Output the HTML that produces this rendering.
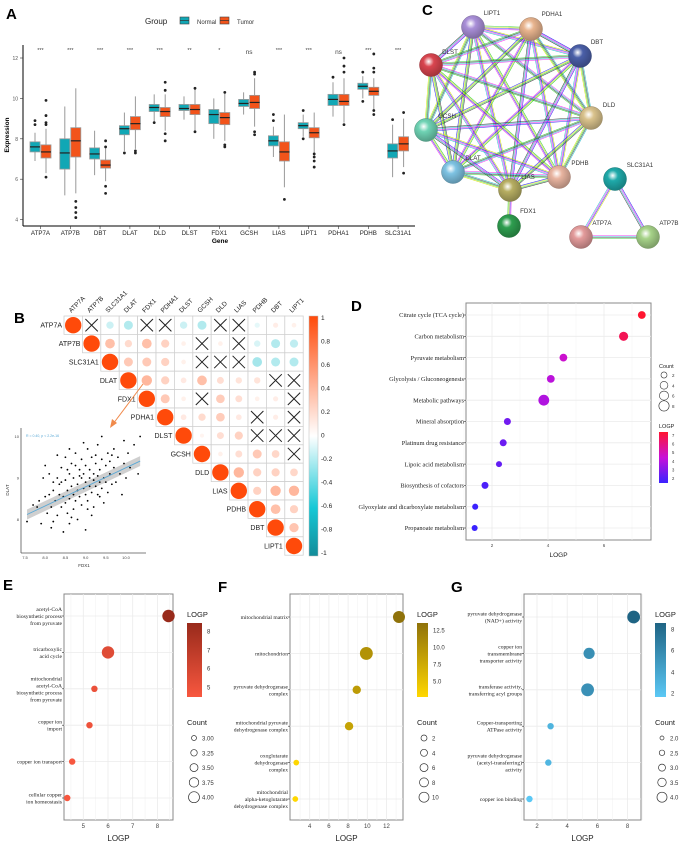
<!DOCTYPE html>
<html><head><meta charset="utf-8">
<style>
html,body{margin:0;padding:0;background:#fff;}
svg{display:block;font-family:"Liberation Sans",sans-serif;}
.serif{font-family:"Liberation Serif",serif;}
</style></head>
<body>
<svg id="fig" width="685" height="842" viewBox="0 0 685 842">
<g font-weight="bold" font-size="15">
<text x="6" y="19">A</text>
<text x="14" y="323">B</text>
<text x="422" y="15">C</text>
<text x="351" y="311">D</text>
<text x="3" y="590">E</text>
<text x="218" y="592">F</text>
<text x="451" y="592">G</text>
</g>
<g id="pA"></g>
<g id="pC"></g>
<g id="pB"></g>
<g id="pS"></g>
<g id="pD"></g>
<g id="pE"></g>
<g id="pF"></g>
<g id="pG"></g>
</svg>
<script>
// ===== Panel A data =====
const genes = ["ATP7A","ATP7B","DBT","DLAT","DLD","DLST","FDX1","GCSH","LIAS","LIPT1","PDHA1","PDHB","SLC31A1"];
const sigLabels = ["***","***","***","***","***","**","*","ns","***","***","ns","***","***"];
// [whiskerLo, q1, median, q3, whiskerHi]
const normalStats = [[6.9,7.35,7.6,7.85,8.3],[5.2,6.5,7.3,8.0,9.6],[6.2,7.0,7.25,7.55,8.4],[7.4,8.2,8.5,8.65,9.3],[8.8,9.35,9.55,9.7,10.2],[8.95,9.4,9.5,9.7,10.1],[8.0,8.75,9.2,9.45,10.0],[9.2,9.6,9.75,9.95,10.3],[7.1,7.65,7.9,8.15,8.6],[8.1,8.5,8.65,8.8,9.2],[9.1,9.65,9.95,10.2,10.8],[10.0,10.45,10.6,10.75,11.1],[6.1,7.05,7.4,7.75,8.7]];
const tumorStats = [[6.3,7.05,7.35,7.7,8.5],[5.3,7.1,7.9,8.55,10.5],[5.9,6.55,6.7,6.95,7.6],[7.5,8.45,8.75,9.1,10.1],[8.4,9.1,9.35,9.55,10.2],[8.4,9.2,9.45,9.7,10.5],[7.9,8.7,9.05,9.3,10.3],[8.6,9.5,9.8,10.15,11.0],[5.6,6.9,7.35,7.85,9.2],[7.3,8.05,8.3,8.55,9.3],[8.8,9.65,9.85,10.2,11.0],[9.4,10.15,10.35,10.55,11.0],[6.6,7.4,7.75,8.1,9.0]];
const normalOut = [[8.7,8.9],[],[],[7.3],[8.8],[],[],[],[8.9,9.2],[8.0,9.4],[11.05],[9.85,11.3],[8.95]];
const tumorOut = [[6.1,8.7,8.8,9.15,9.9],[4.9,4.6,4.35,4.1],[5.3,5.65,7.6,7.9],[7.3,7.4],[7.9,8.25,10.4,10.8],[8.35,10.5],[7.6,7.7,10.3],[8.2,8.35,11.2,11.3],[5.0],[6.6,6.9,7.1,7.25],[8.7,11.3,11.6,12.0],[9.2,9.4,11.3,11.5,12.2],[6.3,9.3]];
const yTicksA = [4,6,8,10,12];

// ===== Panel B data =====
const corrGenes = ["ATP7A","ATP7B","SLC31A1","DLAT","FDX1","PDHA1","DLST","GCSH","DLD","LIAS","PDHB","DBT","LIPT1"];
const corrRows = [
 [1,null,-0.2,-0.3,null,null,-0.2,-0.3,null,null,-0.1,0.1,0.08],
 [1,0.35,0.2,0.35,0.25,0.08,null,0.08,null,-0.15,-0.3,-0.25],
 [1,0.3,0.3,0.25,0.08,null,null,null,-0.35,-0.3,-0.3],
 [1,0.4,0.25,0.12,0.35,0.18,0.15,0.15,null,null],
 [1,0.3,0.08,null,0.28,0.18,0.08,0.1,null],
 [1,0.12,0.2,0.28,0.12,null,0.1,null],
 [1,0.06,0.18,0.25,null,null,null],
 [1,0.08,0.18,0.3,0.22,null],
 [1,0.4,0.25,0.25,0.22],
 [1,0.25,0.4,0.4],
 [1,0.35,0.25],
 [1,0.32],
 [1]];
const corrTicks = [1,0.8,0.6,0.4,0.2,0,-0.2,-0.4,-0.6,-0.8,-1];

// ===== Scatter inset data =====
const fdx1 = [7.55,7.7,7.8,7.85,7.9,7.95,8.0,8.05,8.1,8.1,8.15,8.2,8.2,8.25,8.3,8.3,8.35,8.35,8.4,8.4,8.45,8.45,8.5,8.5,8.5,8.55,8.55,8.6,8.6,8.6,8.65,8.65,8.7,8.7,8.7,8.75,8.75,8.8,8.8,8.8,8.85,8.85,8.9,8.9,8.9,8.95,8.95,9.0,9.0,9.0,9.0,9.05,9.05,9.1,9.1,9.1,9.15,9.15,9.2,9.2,9.2,9.25,9.25,9.3,9.3,9.3,9.35,9.35,9.4,9.4,9.45,9.45,9.5,9.5,9.55,9.55,9.6,9.6,9.65,9.7,9.7,9.75,9.8,9.85,9.9,9.95,10.0,10.05,10.1,10.2,10.3,10.35,8.3,8.0,8.95,9.15,8.65,8.4,8.85,9.05,9.25,8.55,9.35,8.75,9.65,8.2,8.15,9.4,8.6,9.95];
const dlat = [7.95,8.35,8.3,8.45,7.9,9.0,8.55,8.15,8.6,9.1,8.3,8.7,7.95,8.45,9.0,8.1,8.6,8.85,8.3,9.25,8.55,7.7,8.95,8.4,9.5,8.7,8.15,9.1,8.5,7.9,8.8,9.35,8.6,8.25,9.0,8.45,9.6,8.85,8.7,8.0,9.2,8.55,9.0,8.35,9.45,8.75,9.1,8.6,9.3,8.9,7.75,9.7,8.45,9.0,8.8,9.2,8.65,9.5,8.95,9.1,8.3,8.8,9.35,9.05,8.6,9.8,8.9,9.2,9.45,8.75,9.0,8.4,9.3,8.9,9.6,8.65,9.1,9.4,8.85,9.25,9.7,8.9,9.5,9.1,8.6,9.35,9.0,9.6,9.25,9.8,9.1,10.0,9.55,9.3,9.85,8.1,8.05,8.9,9.05,8.25,9.55,9.2,8.55,9.3,9.55,8.9,7.8,10.0,9.7,9.9];
const sxTicks = [7.5,8.0,8.5,9.0,9.5,10.0];
const syTicks = [8,9,10];

// ===== Panel D data =====
const keggTerms = ["Citrate cycle (TCA cycle)","Carbon metabolism","Pyruvate metabolism","Glycolysis / Gluconeogenesis","Metabolic pathways","Mineral absorption","Platinum drug resistance","Lipoic acid metabolism","Biosynthesis of cofactors","Glyoxylate and dicarboxylate metabolism","Propanoate metabolism"];
const keggLogp = [7.35,6.7,4.55,4.1,3.85,2.55,2.4,2.25,1.75,1.4,1.38];
const keggCount = [4,6,4,4,9,3,3,2,3,2,2];
const dTicks = [2,4,6];

// ===== Panel E data =====
const bpTerms = [["acetyl-CoA","biosynthetic process","from pyruvate"],["tricarboxylic","acid cycle"],["mitochondrial","acetyl-CoA","biosynthetic process","from pyruvate"],["copper ion","import"],["copper ion transport"],["cellular copper","ion homeostasis"]];
const bpLogp = [8.45,6.0,5.45,5.25,4.55,4.35];
const bpCount = [4,4,3,3,3,3];
const eTicks = [5,6,7,8];
// ===== Panel F data =====
const ccTerms = [["mitochondrial matrix"],["mitochondrion"],["pyruvate dehydrogenase","complex"],["mitochondrial pyruvate","dehydrogenase complex"],["oxoglutarate","dehydrogenase","complex"],["mitochondrial","alpha-ketoglutarate","dehydrogenase complex"]];
const ccLogp = [13.3,9.9,8.9,8.1,2.6,2.5];
const ccCount = [10,11,6,6,3,3];
const fTicks = [4,6,8,10,12];
// ===== Panel G data =====
const mfTerms = [["pyruvate dehydrogenase","(NAD+) activity"],["copper ion","transmembrane","transporter activity"],["transferase activity,","transferring acyl groups"],["Copper-transporting","ATPase activity"],["pyruvate dehydrogenase","(acetyl-transferring)","activity"],["copper ion binding"]];
const mfLogp = [8.4,5.45,5.35,2.9,2.75,1.5];
const mfCount = [4,3.5,4,2,2,2];
const gTicks = [2,4,6,8];

const NS="http://www.w3.org/2000/svg";
function mk(parent,tag,attrs,txt){const e=document.createElementNS(NS,tag);for(const k in attrs)e.setAttribute(k,attrs[k]);if(txt!==undefined)e.textContent=txt;parent.appendChild(e);return e;}
function lerpC(a,b,t){const pa=[1,3,5].map(i=>parseInt(a.substr(i,2),16)),pb=[1,3,5].map(i=>parseInt(b.substr(i,2),16));return "rgb("+pa.map((v,i)=>Math.round(v+(pb[i]-v)*t)).join(",")+")";}

// ===== Panel A draw =====
(function(){
const g=document.getElementById('pA');
const yA=v=>58+(12-v)*20.2, xA=i=>40.5+i*29.8;
let t;
t=mk(g,'text',{x:145,y:24,'font-size':8,fill:'#222'},'Group');

[['#11A7B5','Normal',180],['#F2541B','Tumor',220]].forEach(([c,l,x])=>{
 const r=mk(g,'rect',{x:x,y:17,width:9,height:7,fill:c,stroke:'#444','stroke-width':0.6});
 
 mk(g,'line',{x1:x,x2:x+9,y1:20.5,y2:20.5,stroke:'#333','stroke-width':0.7});
 const tt=mk(g,'text',{x:x+17,y:24,'font-size':6,fill:'#333'},l);
 
});
mk(g,'line',{x1:23,x2:23,y1:45,y2:226,stroke:'#000','stroke-width':1});
mk(g,'line',{x1:23,x2:415,y1:226,y2:226,stroke:'#000','stroke-width':1});
yTicksA.forEach(v=>{mk(g,'line',{x1:20,x2:23,y1:yA(v),y2:yA(v),stroke:'#333','stroke-width':0.6});
 const tt=mk(g,'text',{x:18,y:yA(v)+2,'font-size':5,fill:'#555','text-anchor':'end'},v);
 });
t=mk(g,'text',{x:0,y:0,'font-size':6.5,'font-weight':'bold',transform:'translate(9,135) rotate(-90)','text-anchor':'middle'},'Expression');

t=mk(g,'text',{x:220,y:243,'font-size':6.5,'font-weight':'bold','text-anchor':'middle'},'Gene');

genes.forEach((gn,i)=>{
 const cx=xA(i);
 mk(g,'line',{x1:cx,x2:cx,y1:226,y2:229,stroke:'#333','stroke-width':0.6});
 const tt=mk(g,'text',{x:cx,y:235,'font-size':6.2,'text-anchor':'middle',fill:'#222'},gn);
 
 const sg=mk(g,'text',{x:cx,y:sigLabels[i]=='ns'?54:52,'font-size':sigLabels[i]=='ns'?6.5:5.5,'text-anchor':'middle',fill:'#444'},sigLabels[i]);
 
 [[normalStats[i],normalOut[i],'#11A7B5',cx-5.5,'normal'],[tumorStats[i],tumorOut[i],'#F2541B',cx+5.5,'tumor']].forEach(([s,o,c,bx,nm])=>{
  mk(g,'line',{x1:bx,x2:bx,y1:yA(s[0]),y2:yA(s[4]),stroke:'#999','stroke-width':1});
  const b=mk(g,'rect',{x:bx-5,y:yA(s[3]),width:10,height:yA(s[1])-yA(s[3]),fill:c,stroke:'#9a9a9a','stroke-width':0.8});
  
  mk(g,'line',{x1:bx-5,x2:bx+5,y1:yA(s[2]),y2:yA(s[2]),stroke:'#222','stroke-width':1.2});
  o.forEach(v=>{const p=mk(g,'circle',{cx:bx,cy:yA(v),r:1.4,fill:'#222'});
   });
 });
});
})();

// ===== Panel C network =====
(function(){
const g=document.getElementById('pC');
const nodes={LIPT1:[473,27,'#A98FD8',492,15],PDHA1:[531,29,'#E8B48E',552,16],DBT:[580,56,'#4A5FA8',597,44],DLST:[431,65,'#D9454F',450,54],DLD:[591,118,'#D9C28C',609,107],GCSH:[426,130,'#6FD3B4',447,118],DLAT:[453,172,'#7EC3E3',473,160],PDHB:[559,177,'#E8B4A0',580,165],LIAS:[510,190,'#B7AE62',528,179],FDX1:[509,226,'#2E9E4F',528,213],SLC31A1:[615,179,'#1FAAAA',640,167],ATP7A:[581,237,'#E39B9B',602,225],ATP7B:[648,237,'#A7D389',669,225]};
const clique=['LIPT1','PDHA1','DBT','DLST','DLD','GCSH','DLAT','PDHB','LIAS'];
const edges=[];
for(let i=0;i<clique.length;i++)for(let j=i+1;j<clique.length;j++)edges.push([clique[i],clique[j]]);
edges.push(['FDX1','LIAS'],['SLC31A1','ATP7A'],['SLC31A1','ATP7B'],['ATP7A','ATP7B']);
const cols=['#22CC22','#D4E000','#2222EE','#EE22EE','#22BBCC','#333333'];
edges.forEach(([a,b],k)=>{
 const A=nodes[a],B=nodes[b];const dx=B[0]-A[0],dy=B[1]-A[1],L=Math.hypot(dx,dy);const nx=-dy/L,ny=dx/L;
 const eg=mk(g,'g',{});
 
 const n=4;
 for(let m=0;m<n;m++){const o=(m-(n-1)/2)*1.0;const c=cols[(k+m)%cols.length];
  mk(eg,'line',{x1:A[0]+nx*o,y1:A[1]+ny*o,x2:B[0]+nx*o,y2:B[1]+ny*o,stroke:c,'stroke-width':0.6,opacity:0.85});}
});
const defs=mk(g,'defs',{});
Object.keys(nodes).forEach((k,i)=>{
 const [x,y,c,lx,ly]=nodes[k];
 const gr=mk(defs,'radialGradient',{id:'ng'+i,cx:'40%',cy:'35%',r:'65%'});
 mk(gr,'stop',{offset:'0%','stop-color':'#ffffff'});
 mk(gr,'stop',{offset:'35%','stop-color':c});
 mk(gr,'stop',{offset:'100%','stop-color':lerpC(c,'#000000',0.25)});
 const nd=mk(g,'circle',{cx:x,cy:y,r:11.5,fill:'url(#ng'+i+')',stroke:lerpC(c,'#000000',0.3),'stroke-width':0.5});
 
 const t=mk(g,'text',{x:lx,y:ly,'font-size':6.2,fill:'#333','text-anchor':'middle'},k);
 
});
})();

// ===== Panel B correlation =====
(function(){
const g=document.getElementById('pB');
const cs=18.4, x0=64, y0=316;
function cc(r){return r>=0?lerpC('#FFFFFF','#FF4A0A',Math.min(1,r)):lerpC('#FFFFFF','#15BECB',Math.min(1,-r*1.1));}
corrGenes.forEach((gn,i)=>{
 const cl=mk(g,'text',{x:0,y:0,'font-size':6.5,fill:'#222',transform:`translate(${x0+i*cs+cs/2-2},${y0-3}) rotate(-45)`},gn);
 
 const rl=mk(g,'text',{x:x0+i*cs-2,y:y0+i*cs+cs/2+2.5,'font-size':7,fill:'#222','text-anchor':'end'},gn);
 
 corrRows[i].forEach((r,k)=>{
  const j=i+k, x=x0+j*cs, y=y0+i*cs;
  const c=mk(g,'rect',{x:x,y:y,width:cs,height:cs,fill:'#fff',stroke:'#d0d0d0','stroke-width':0.8});
  
  if(r===null){
   const xg=mk(g,'path',{d:`M${x+3},${y+3}L${x+cs-3},${y+cs-3}M${x+cs-3},${y+3}L${x+3},${y+cs-3}`,stroke:'#222','stroke-width':1});
   
  } else {
   const ci=mk(g,'circle',{cx:x+cs/2,cy:y+cs/2,r:8.2*Math.sqrt(Math.abs(r)),fill:cc(r)});
   
  }
 });
});
const defs=mk(g,'defs',{});
const lg=mk(defs,'linearGradient',{id:'cbB',x1:0,y1:0,x2:0,y2:1});
[['0','#FF4A0A'],['0.5','#FFFFFF'],['0.8','#15C8D6'],['1','#138C99']].forEach(([o,c])=>mk(lg,'stop',{offset:o,'stop-color':c}));
const bar=mk(g,'rect',{x:309,y:316,width:9,height:240,fill:'url(#cbB)',stroke:'#bbb','stroke-width':0.5});

corrTicks.forEach((v,i)=>{const t=mk(g,'text',{x:321,y:318+i*23.5+2,'font-size':6.5,fill:'#222'},v);
 });
const ar=mk(g,'path',{d:'M143,384L113,424',stroke:'#F08A4B','stroke-width':1,fill:'none'});

mk(g,'path',{d:'M110,428L112,419L117,423Z',fill:'#F08A4B'});
})();

// ===== Scatter inset =====
(function(){
const g=document.getElementById('pS');
const sx=v=>25+(v-7.5)*40.4, sy=v=>478-(v-9)*41.5;
mk(g,'line',{x1:21,x2:21,y1:428,y2:553,stroke:'#555','stroke-width':0.8});
mk(g,'line',{x1:21,x2:146,y1:553,y2:553,stroke:'#555','stroke-width':0.8});
sxTicks.forEach(v=>{const t=mk(g,'text',{x:sx(v),y:559,'font-size':4,'text-anchor':'middle',fill:'#444'},v.toFixed(1));
 });
syTicks.forEach(v=>{const t=mk(g,'text',{x:19,y:sy(v)+1.5,'font-size':4,'text-anchor':'end',fill:'#444'},v);
 });
let t=mk(g,'text',{x:84,y:567,'font-size':4.5,'text-anchor':'middle',fill:'#333'},'FDX1');

t=mk(g,'text',{x:0,y:0,'font-size':4.5,'text-anchor':'middle',fill:'#333',transform:'translate(9,490) rotate(-90)'},'DLAT');

t=mk(g,'text',{x:26,y:437,'font-size':3.5,fill:'#5AA9D6'},'R = 0.40, p < 2.2e-16');

const x1=7.55,x2=10.35,b0=8.12,b1=0.46;
const band=mk(g,'path',{d:`M${sx(x1)},${sy(b0-0.12)}L${sx(x2)},${sy(b0+b1*(x2-x1)-0.12)}L${sx(x2)},${sy(b0+b1*(x2-x1)+0.12)}L${sx(x1)},${sy(b0+0.12)}Z`,fill:'#bbb',opacity:0.7});

fdx1.forEach((v,i)=>{const p=mk(g,'circle',{cx:sx(v),cy:sy(dlat[i]),r:0.9,fill:'#000'});
 });
const rl=mk(g,'line',{x1:sx(x1),y1:sy(b0),x2:sx(x2),y2:sy(b0+b1*(x2-x1)),stroke:'#5AA9D6','stroke-width':0.9});

})();

// ===== generic dotplot =====
function dotplot(id,cfg){
 const g=document.getElementById(id);
 const X=v=>cfg.tx0+(v-cfg.t0)*cfg.ppu;
 const fr=mk(g,'rect',{x:cfg.bx,y:cfg.by,width:cfg.bw,height:cfg.bh,fill:'#fff',stroke:'#888','stroke-width':1});
 
 cfg.ticks.forEach(v=>{mk(g,'line',{x1:X(v),x2:X(v),y1:cfg.by,y2:cfg.by+cfg.bh,stroke:'#ebebeb','stroke-width':0.8});
  if(cfg.minor)mk(g,'line',{x1:X(v+cfg.minor),x2:X(v+cfg.minor),y1:cfg.by,y2:cfg.by+cfg.bh,stroke:'#f3f3f3','stroke-width':0.6});
  const t=mk(g,'text',{x:X(v),y:cfg.by+cfg.bh+cfg.tkDy,'font-size':cfg.tkFs,'text-anchor':'middle',fill:'#444'},v);
  });
 if(cfg.minor&&cfg.ticks.length)mk(g,'line',{x1:X(cfg.ticks[0]-cfg.minor),x2:X(cfg.ticks[0]-cfg.minor),y1:cfg.by,y2:cfg.by+cfg.bh,stroke:'#f3f3f3','stroke-width':0.6});
 const at=mk(g,'text',{x:cfg.bx+cfg.bw/2,y:cfg.titleY,'font-size':cfg.titleFs,'text-anchor':'middle',fill:'#222'},'LOGP');
 
 const vmin=Math.min(...cfg.vals),vmax=Math.max(...cfg.vals);
 cfg.terms.forEach((tm,i)=>{
  const y=cfg.ry0+i*cfg.rstep;
  mk(g,'line',{x1:cfg.bx,x2:cfg.bx+cfg.bw,y1:y,y2:y,stroke:'#ebebeb','stroke-width':0.8});
  mk(g,'line',{x1:cfg.bx-2,x2:cfg.bx,y1:y,y2:y,stroke:'#333','stroke-width':0.6});
  const lines=Array.isArray(tm)?tm:[tm];
  const lh=cfg.lblFs*1.25;
  lines.forEach((ln,k)=>{const t=mk(g,'text',{x:cfg.bx-2,y:y+(k-(lines.length-1)/2)*lh+cfg.lblFs*0.35,'font-size':cfg.lblFs,'text-anchor':'end',fill:'#222','class':'serif'},ln);
   });
  const tt=(cfg.vals[i]-vmin)/(vmax-vmin||1);
  const d=mk(g,'circle',{cx:X(cfg.vals[i]),cy:y,r:cfg.rad(cfg.counts[i]),fill:cfg.col(tt)});
  
 });
}
// D
dotplot('pD',{bx:466,by:303,bw:185,bh:237,tx0:492,t0:2,ppu:28,ticks:dTicks,minor:1,tkDy:7,tkFs:4.5,titleY:557,titleFs:6.5,
 terms:keggTerms,vals:keggLogp,counts:keggCount,ry0:315,rstep:21.3,lblFs:6.3,
 rad:c=>0.9+Math.sqrt(c)*1.5,col:t=>t<0.5?lerpC('#3A22FF','#C810D8',t*2):lerpC('#C810D8','#FF1530',(t-0.5)*2)});
(function(){const g=document.getElementById('pD');
 let t=mk(g,'text',{x:659,y:368,'font-size':5.5,fill:'#222'},'Count');
 [2,4,6,8].forEach((c,i)=>{const ci=mk(g,'circle',{cx:664,cy:375+i*10.3,r:0.9+Math.sqrt(c)*1.5,fill:'none',stroke:'#333','stroke-width':0.6});
  
  mk(g,'text',{x:672,y:377+i*10.3,'font-size':4.5,fill:'#333'},c);});
 t=mk(g,'text',{x:659,y:428,'font-size':5.5,fill:'#222'},'LOGP');
 const defs=mk(g,'defs',{});const lg=mk(defs,'linearGradient',{id:'cbD',x1:0,y1:0,x2:0,y2:1});
 [['0','#FF1530'],['0.5','#C810D8'],['1','#3A22FF']].forEach(([o,c])=>mk(lg,'stop',{offset:o,'stop-color':c}));
 const b=mk(g,'rect',{x:659,y:432,width:9,height:51,fill:'url(#cbD)'});
 [7,6,5,4,3,2].forEach((v,i)=>mk(g,'text',{x:672,y:437+i*8.6,'font-size':4.2,fill:'#333'},v));
})();
// E
dotplot('pE',{bx:64,by:594,bw:109,bh:226,tx0:83.3,t0:5,ppu:24.7,ticks:eTicks,minor:0.5,tkDy:8,tkFs:6,titleY:841,titleFs:8,
 terms:bpTerms,vals:bpLogp,counts:bpCount,ry0:616,rstep:36.4,lblFs:5.6,
 rad:c=>3.2+(c-3)*3,col:t=>lerpC('#F8573F','#982A1B',Math.pow(t,1.5))});
// F
dotplot('pF',{bx:290,by:594,bw:113,bh:226,tx0:309.7,t0:4,ppu:9.6,ticks:fTicks,minor:1,tkDy:8,tkFs:6,titleY:841,titleFs:8,
 terms:ccTerms,vals:ccLogp,counts:ccCount,ry0:617,rstep:36.4,lblFs:5.6,
 rad:c=>1.5+c*0.45,col:t=>lerpC('#FFD700','#8F720A',t)});
// G
dotplot('pG',{bx:524,by:594,bw:117,bh:226,tx0:537,t0:2,ppu:15.1,ticks:gTicks,minor:1,tkDy:8,tkFs:6,titleY:841,titleFs:8,
 terms:mfTerms,vals:mfLogp,counts:mfCount,ry0:617,rstep:36.4,lblFs:5.6,
 rad:c=>1.6*c,col:t=>lerpC('#5BC8F5','#1F6484',t)});
// E/F/G legends
function glegend(id,x,cA,cB,ticks,counts,rad,grad){
 const g=document.getElementById(id);
 let t=mk(g,'text',{x:x,y:617,'font-size':7.5,fill:'#222'},'LOGP');
 const defs=mk(g,'defs',{});const lg=mk(defs,'linearGradient',{id:'cb'+id,x1:0,y1:0,x2:0,y2:1});
 mk(lg,'stop',{offset:'0','stop-color':cA});mk(lg,'stop',{offset:'1','stop-color':cB});
 const b=mk(g,'rect',{x:x,y:623,width:grad,height:74,fill:'url(#cb'+id+')'});
 ticks.forEach(([v,y])=>{mk(g,'text',{x:x+grad+5,y:y+2.5,'font-size':6,fill:'#333'},v);});
 t=mk(g,'text',{x:x,y:725,'font-size':7.5,fill:'#222'},'Count');
 counts.forEach((c,i)=>{const y=738+i*14.8;const ci=mk(g,'circle',{cx:x+7,cy:y,r:rad(c),fill:'none',stroke:'#333','stroke-width':0.7});
  
  mk(g,'text',{x:x+15,y:y+2.5,'font-size':6,fill:'#333'},c);});
}
glegend('pE',187,'#982A1B','#F8573F',[['8',631],['7',650],['6',668],['5',687]],['3.00','3.25','3.50','3.75','4.00'],c=>2.5+(parseFloat(c)-3)*3,15);
glegend('pF',417,'#8F720A','#FFD700',[['12.5',630],['10.0',647],['7.5',664],['5.0',681]],[2,4,6,8,10],c=>2.5+c*0.25,11);
glegend('pG',655,'#1F6484','#5BC8F5',[['8',629],['6',650],['4',672],['2',693]],['2.0','2.5','3.0','3.5','4.0'],c=>2+(parseFloat(c)-2)*1.5,11);
</script>
</body></html>
